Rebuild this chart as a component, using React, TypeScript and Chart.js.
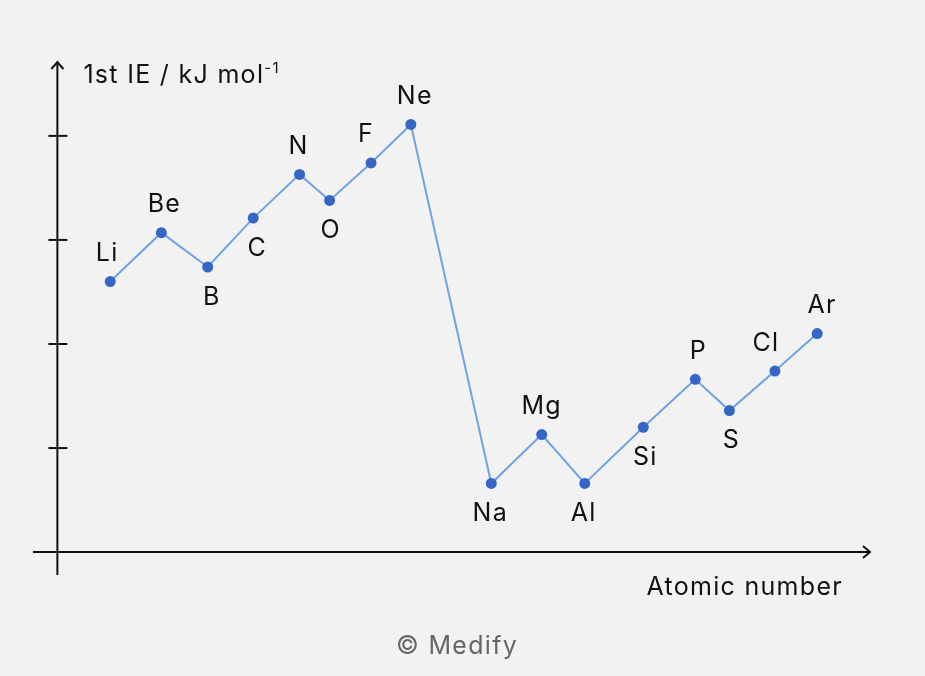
import React, { useEffect, useRef } from "react";
import { Chart, registerables } from "chart.js";

Chart.register(...registerables);

// Element symbols (period 2 and 3)
const elements = ["Li", "Be", "B", "C", "N", "O", "F", "Ne", "Na", "Mg", "Al", "Si", "P", "S", "Cl", "Ar"];
// Horizontal position along the schematic atomic-number axis (0..100)
const positions = [6.5, 12.8, 18.5, 24.1, 29.8, 33.5, 38.6, 43.5, 53.4, 59.6, 64.9, 72.1, 78.5, 82.7, 88.3, 93.5];
// Schematic 1st ionisation energy (arbitrary units, axis ticks at 1..4)
const energies = [2.6, 3.07, 2.74, 3.21, 3.63, 3.38, 3.74, 4.11, 0.66, 1.13, 0.66, 1.2, 1.66, 1.36, 1.74, 2.1];
// Label placement relative to each point
const labelSide = ["above", "above", "below", "below", "above", "below", "above", "above", "below", "above", "below", "below", "above", "below", "above", "above"];
const labelShiftX = [-3, 3, 4, 4, -1, 1, -5, 4, -1, 0, -1, 2, 3, 2, -9, 5];
const yTicks = [1, 2, 3, 4];

const FONT = "Inter, 'Noto Sans', sans-serif";
const SPACING = "1.3px";

const axesPlugin = {
  id: "customAxes",
  beforeDatasetsDraw(chart: any) {
    const { ctx, chartArea, scales } = chart;
    const x0 = scales.x.getPixelForValue(0);
    const y0 = scales.y.getPixelForValue(0);
    ctx.save();
    ctx.strokeStyle = "#111";
    ctx.lineWidth = 2;
    ctx.lineCap = "butt";
    // y axis
    ctx.beginPath();
    ctx.moveTo(x0, chartArea.bottom);
    ctx.lineTo(x0, chartArea.top);
    ctx.stroke();
    ctx.beginPath();
    ctx.moveTo(x0 - 6, chartArea.top + 7);
    ctx.lineTo(x0, chartArea.top);
    ctx.lineTo(x0 + 6, chartArea.top + 7);
    ctx.stroke();
    // x axis
    ctx.beginPath();
    ctx.moveTo(chartArea.left, y0);
    ctx.lineTo(chartArea.right, y0);
    ctx.stroke();
    ctx.beginPath();
    ctx.moveTo(chartArea.right - 7, y0 - 6);
    ctx.lineTo(chartArea.right, y0);
    ctx.lineTo(chartArea.right - 7, y0 + 6);
    ctx.stroke();
    // ticks
    yTicks.forEach((t) => {
      const py = scales.y.getPixelForValue(t);
      ctx.beginPath();
      ctx.moveTo(x0 - 9, py);
      ctx.lineTo(x0 + 10, py);
      ctx.stroke();
    });
    // titles
    (ctx as any).letterSpacing = SPACING;
    ctx.fillStyle = "#111";
    ctx.font = `25px ${FONT}`;
    ctx.textBaseline = "alphabetic";
    ctx.textAlign = "left";
    const main = "1st IE / kJ mol";
    ctx.fillText(main, x0 + 26, chartArea.top + 21);
    const w = ctx.measureText(main).width;
    ctx.font = `15px ${FONT}`;
    ctx.fillText("-1", x0 + 26 + w, chartArea.top + 11);
    ctx.font = `25px ${FONT}`;
    ctx.textAlign = "right";
    ctx.fillText("Atomic number", 843, y0 + 43);
    ctx.textAlign = "center";
    ctx.fillStyle = "#666";
    ctx.fillText("\u00A9 Medify", 457, 654);
    ctx.restore();
  },
  afterDatasetsDraw(chart: any) {
    const { ctx } = chart;
    const meta = chart.getDatasetMeta(0);
    ctx.save();
    (ctx as any).letterSpacing = SPACING;
    ctx.fillStyle = "#111";
    ctx.font = `25px ${FONT}`;
    ctx.textAlign = "center";
    ctx.textBaseline = "middle";
    meta.data.forEach((pt: any, i: number) => {
      const dy = labelSide[i] === "above" ? -28 : 30;
      ctx.fillText(elements[i], pt.x + labelShiftX[i], pt.y + dy);
    });
    ctx.restore();
  },
};

export default function App() {
  const ref = useRef<HTMLCanvasElement>(null);
  useEffect(() => {
    const chart = new Chart(ref.current!, {
      type: "line",
      data: {
        datasets: [
          {
            data: positions.map((x, i) => ({ x, y: energies[i] })),
            borderColor: "#6fa2e6",
            borderWidth: 2,
            pointBackgroundColor: "#3566c6",
            pointBorderColor: "#3566c6",
            pointRadius: 5.5,
            pointBorderWidth: 0,
            tension: 0,
          },
        ],
      },
      options: {
        animation: false,
        responsive: false,
        layout: { padding: { left: 33, right: 55, top: 62, bottom: 101 } },
        plugins: { legend: { display: false }, tooltip: { enabled: false } },
        scales: {
          x: { type: "linear", min: -3, max: 100, display: false },
          y: { type: "linear", min: -0.22, max: 4.71, display: false },
        },
      },
      plugins: [axesPlugin],
    });
    return () => chart.destroy();
  }, []);
  return (
    <div style={{ position: "fixed", left: 0, top: 0, width: 925, height: 676, background: "#f2f2f2" }}>
      <canvas ref={ref} width={925} height={676} style={{ width: 925, height: 676, display: "block" }} />
    </div>
  );
}
